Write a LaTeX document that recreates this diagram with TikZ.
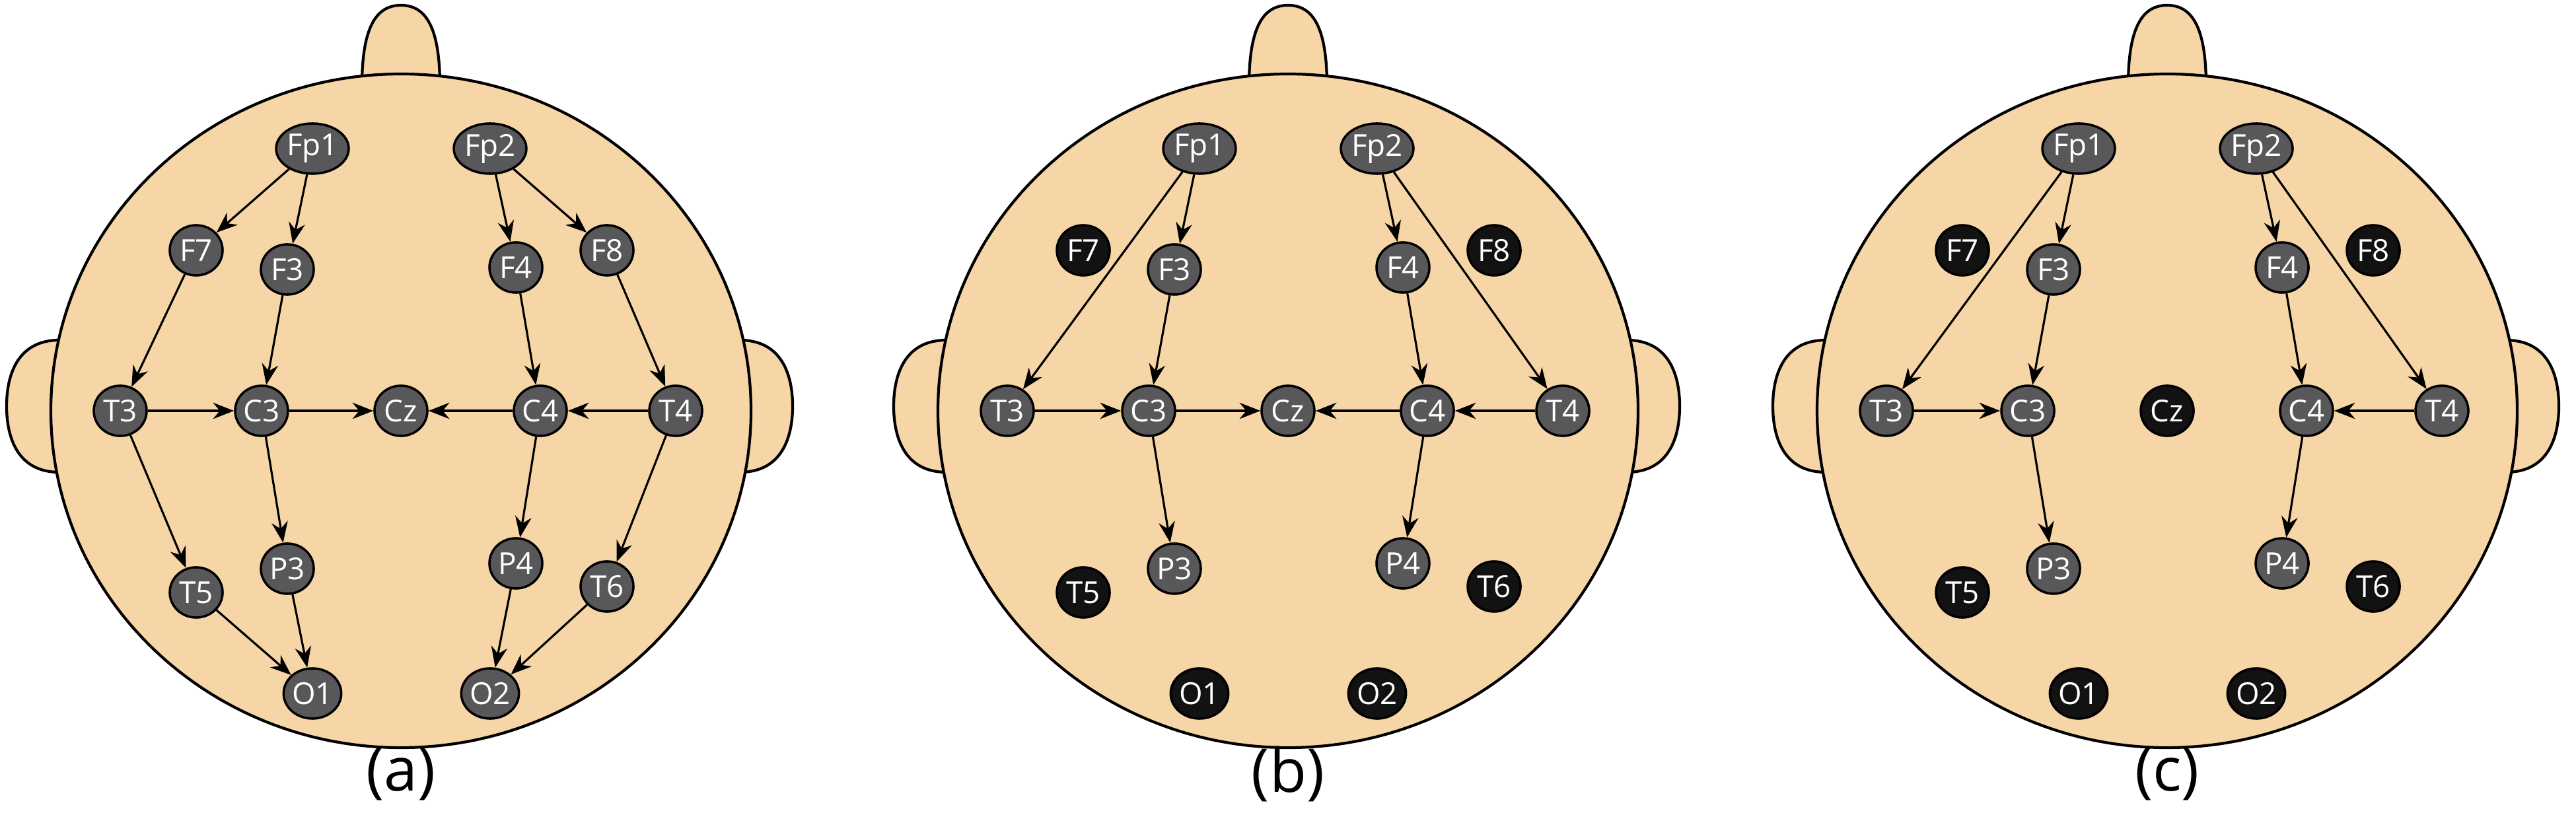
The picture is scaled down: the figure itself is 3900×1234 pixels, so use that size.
\documentclass[tikz,border=0pt]{standalone}
\usepackage{fontspec}
\setmainfont{Open Sans}
\usetikzlibrary{arrows.meta,shapes.geometric}
\definecolor{skin}{RGB}{246,214,166}
\definecolor{elgray}{RGB}{88,88,90}
\definecolor{elblack}{RGB}{18,18,18}
\tikzset{
  outl/.style={draw=black,line width=1.2pt,fill=skin},
  elg/.style={ellipse,draw=black,line width=1pt,fill=elgray,text=white,minimum width=0.8cm,minimum height=0.76cm,inner sep=0pt,font=\fontsize{13}{13}\selectfont},
  elb/.style={elg,fill=elblack},
  arr/.style={-{Stealth[length=9pt,width=7pt]},line width=0.9pt},
  captext/.style={font=\fontsize{26}{26}\selectfont}
}
\newcommand{\headshape}[1]{%
  \begin{scope}[shift={(#1,0)}]
    \draw[outl] (548,130) .. controls (548,40) and (570,8) .. (607,8) .. controls (644,8) and (666,40) .. (666,130);
    \draw[outl] (90,515) .. controls (25,515) and (10,570) .. (10,615) .. controls (10,660) and (25,715) .. (90,715);
    \draw[outl] (1120,515) .. controls (1185,515) and (1200,570) .. (1200,615) .. controls (1200,660) and (1185,715) .. (1120,715);
    \fill[skin] (607,622) ellipse[x radius=530,y radius=510];
    \draw[line width=1.2pt] (607,622) ellipse[x radius=530,y radius=510];
  \end{scope}}
\begin{document}
\begin{tikzpicture}[x=0.01cm,y=-0.01cm]
\useasboundingbox (0,0) rectangle (3900,1234);
% head (a)
\headshape{0}
\begin{scope}
\foreach \n/\x/\y/\s in {Fp1/473/225/elg,Fp2/742/225/elg,F7/297/379/elg,F3/435/408/elg,F4/781/405/elg,F8/919/379/elg,T3/182/622/elg,C3/396/622/elg,Cz/607/622/elg,C4/818/622/elg,T4/1023/622/elg,T5/297/897/elg,P3/435/861/elg,P4/781/853/elg,T6/919/888/elg,O1/473/1050/elg,O2/742/1050/elg}
  \node[\s] (a\n) at (\x,\y) {\n};
\foreach \u/\v in {Fp1/F7,Fp1/F3,F7/T3,F3/C3,T3/C3,C3/Cz,T3/T5,C3/P3,T5/O1,P3/O1,Fp2/F4,Fp2/F8,F4/C4,F8/T4,T4/C4,C4/Cz,C4/P4,T4/T6,P4/O2,T6/O2}
  \draw[arr] (a\u) -- (a\v);
\node[captext] (acap) at (607,1172) {(a)};
\end{scope}
% head (b)
\headshape{1343}
\begin{scope}[shift={(1343,0)}]
\foreach \n/\x/\y/\s in {Fp1/473/225/elg,Fp2/742/225/elg,F7/297/379/elb,F3/435/408/elg,F4/781/405/elg,F8/919/379/elb,T3/182/622/elg,C3/396/622/elg,Cz/607/622/elg,C4/818/622/elg,T4/1023/622/elg,T5/297/897/elb,P3/435/861/elg,P4/781/853/elg,T6/919/888/elb,O1/473/1050/elb,O2/742/1050/elb}
  \node[\s] (b\n) at (\x,\y) {\n};
\foreach \u/\v in {Fp1/T3,Fp1/F3,F3/C3,T3/C3,C3/Cz,C3/P3,Fp2/F4,Fp2/T4,F4/C4,T4/C4,C4/Cz,C4/P4}
  \draw[arr] (b\u) -- (b\v);
\node[captext] (bcap) at (607,1172) {(b)};
\end{scope}
% head (c)
\headshape{2674}
\begin{scope}[shift={(2674,0)}]
\foreach \n/\x/\y/\s in {Fp1/473/225/elg,Fp2/742/225/elg,F7/297/379/elb,F3/435/408/elg,F4/781/405/elg,F8/919/379/elb,T3/182/622/elg,C3/396/622/elg,Cz/607/622/elb,C4/818/622/elg,T4/1023/622/elg,T5/297/897/elb,P3/435/861/elg,P4/781/853/elg,T6/919/888/elb,O1/473/1050/elb,O2/742/1050/elb}
  \node[\s] (c\n) at (\x,\y) {\n};
\foreach \u/\v in {Fp1/T3,Fp1/F3,F3/C3,T3/C3,C3/P3,Fp2/F4,Fp2/T4,F4/C4,T4/C4,C4/P4}
  \draw[arr] (c\u) -- (c\v);
\node[captext] (ccap) at (607,1172) {(c)};
\end{scope}
\end{tikzpicture}
\end{document}
